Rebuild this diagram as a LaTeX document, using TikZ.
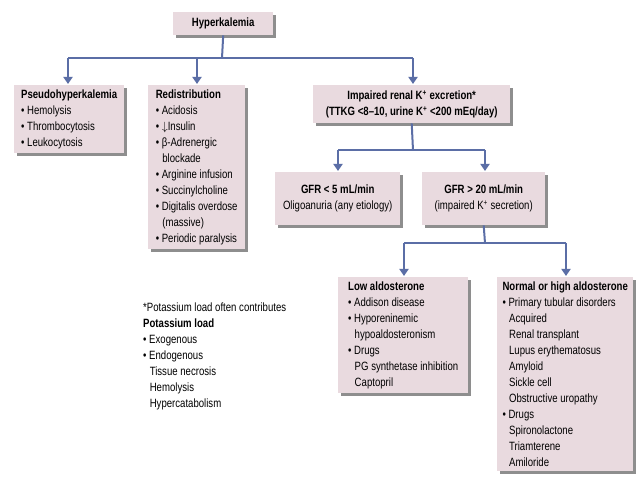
\documentclass[tikz,border=0pt]{standalone}
\usepackage{fontspec}
\setmainfont{Liberation Sans}[FakeStretch=0.8]
\usetikzlibrary{shadows,arrows.meta}
\definecolor{boxpink}{HTML}{E9DADF}
\definecolor{lineblue}{HTML}{5B6EA6}
\definecolor{shad}{HTML}{8E8E8E}
\tikzset{
 box/.style={anchor=north west,fill=boxpink,inner xsep=4pt,inner ysep=4.5pt,align=left,
   font=\fontsize{12}{16}\selectfont,
   general shadow={fill=shad,shadow xshift=3pt,shadow yshift=-3pt}},
 ln/.style={draw=lineblue,line width=2pt},
 ar/.style={ln,-{Triangle[length=7pt,width=9pt]}},
}
\newcommand{\bl}{\textbullet\ }
\newcommand{\ind}{\hspace*{0.55em}}
\begin{document}
\begin{tikzpicture}[x=1pt,y=-1pt]
\useasboundingbox[fill=white] (0,0) rectangle (638,478);
\node[box,minimum width=100pt,minimum height=23pt,align=center] (h) at (173,12) {\textbf{Hyperkalemia}};
\node[box,minimum width=110pt] (p) at (14,85) {\textbf{Pseudohyperkalemia}\\\bl Hemolysis\\\bl Thrombocytosis\\\bl Leukocytosis};
\node[box,minimum width=97pt] (r) at (148,85) {\textbf{Redistribution}\\\bl Acidosis\\\bl $\downarrow$Insulin\\\bl β-Adrenergic\\\ind blockade\\\bl Arginine infusion\\\bl Succinylcholine\\\bl Digitalis overdose\\\ind(massive)\\\bl Periodic paralysis};
\node[box,minimum width=197pt,minimum height=38pt,align=center] (i) at (313,85) {\textbf{Impaired renal K\textsuperscript{+} excretion*}\\\textbf{(TTKG <8–10, urine K\textsuperscript{+} <200 mEq/day)}};
\node[box,minimum width=125pt,minimum height=53pt,align=center] (g1) at (275,172) {\textbf{GFR < 5 mL/min}\\Oligoanuria (any etiology)};
\node[box,minimum width=123pt,minimum height=53pt,align=center] (g2) at (422,172) {\textbf{GFR > 20 mL/min}\\(impaired K\textsuperscript{+} secretion)};
\node[box,minimum width=130pt] (la) at (338,277) {\textbf{Low aldosterone}\\\bl Addison disease\\\bl Hyporeninemic\\\ind hypoaldosteronism\\\bl Drugs\\\ind PG synthetase inhibition\\\ind Captopril};
\node[box,minimum width=136pt] (na) at (497,277) {\textbf{Normal or high aldosterone}\\\bl Primary tubular disorders\\\ind Acquired\\\ind Renal transplant\\\ind Lupus erythematosus\\\ind Amyloid\\\ind Sickle cell\\\ind Obstructive uropathy\\\bl Drugs\\\ind Spironolactone\\\ind Triamterene\\\ind Amiloride};
\node[anchor=north west,align=left,font=\fontsize{12}{16}\selectfont,inner sep=0pt] (fn) at (143,303) {*Potassium load often contributes\\\textbf{Potassium load}\\\bl Exogenous\\\bl Endogenous\\\ind Tissue necrosis\\\ind Hemolysis\\\ind Hypercatabolism};
\coordinate (j1) at (222,58);
\draw[ln] (h.south) -- (j1);
\draw[ln] (68,58) -- (413,58);
\draw[ar] (68,58) -- (68,84);
\draw[ar] (197,58) -- (197,84);
\draw[ar] (413,58) -- (413,84);
\draw[ln] (i.south) -- (413,150);
\draw[ln] (338,150) -- (485,150);
\draw[ar] (338,150) -- (338,171);
\draw[ar] (485,150) -- (485,171);
\draw[ln] (g2.south) -- (485,243);
\draw[ln] (404,243) -- (566,243);
\draw[ar] (404,243) -- (404,276);
\draw[ar] (566,243) -- (566,276);
\end{tikzpicture}
\end{document}
